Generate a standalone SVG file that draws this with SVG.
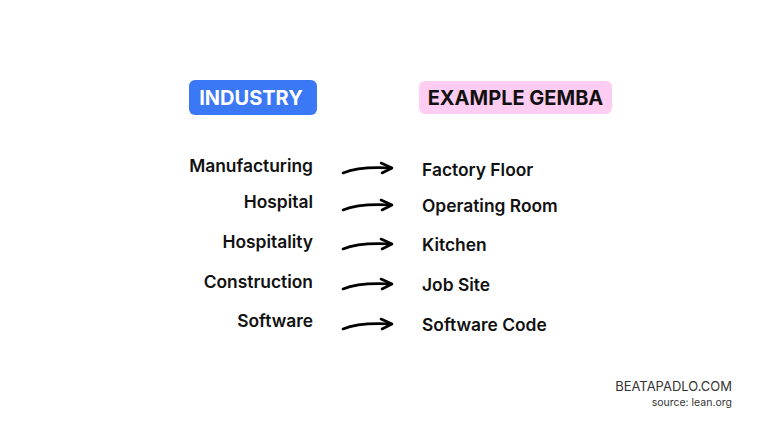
<svg xmlns="http://www.w3.org/2000/svg" width="768" height="432" viewBox="0 0 768 432">
<defs>
<style>
.lbl{font-family:Inter,"Noto Sans",sans-serif;font-weight:600;font-size:17.4px;fill:#111}
.l{text-anchor:end}
.hdr{font-family:Inter,"Noto Sans",sans-serif;font-weight:700;font-size:20px}
.arr{fill:none;stroke:#000;stroke-width:2.6;stroke-linecap:round;stroke-linejoin:round}
.src{font-family:Inter,"Noto Sans",sans-serif;fill:#333;text-anchor:end}
</style>
<g id="arrowShape">
<path class="arr" d="M0,4 C12,-1 30,-2 48,-1"/>
<path class="arr" d="M38,-6 L49,-1 L39,4"/>
</g>
</defs>
<rect width="768" height="432" fill="#fff"/>
<g id="hdr-industry">
<rect x="189" y="80" width="128" height="35" rx="6" fill="#3b78f6"/>
<text class="hdr" x="251" y="104.5" text-anchor="middle" fill="#fff">INDUSTRY</text>
</g>
<g id="hdr-gemba">
<rect x="419" y="81" width="193" height="33" rx="6" fill="#ffccf2"/>
<text class="hdr" x="515.5" y="104.5" text-anchor="middle" fill="#111">EXAMPLE GEMBA</text>
</g>
<g id="row1"><text class="lbl l" x="313" y="172">Manufacturing</text><text class="lbl" x="422" y="176">Factory Floor</text></g>
<g id="row2"><text class="lbl l" x="313" y="208">Hospital</text><text class="lbl" x="422" y="212">Operating Room</text></g>
<g id="row3"><text class="lbl l" x="313" y="248">Hospitality</text><text class="lbl" x="422" y="251">Kitchen</text></g>
<g id="row4"><text class="lbl l" x="313" y="288">Construction</text><text class="lbl" x="422" y="291">Job Site</text></g>
<g id="row5"><text class="lbl l" x="313" y="327">Software</text><text class="lbl" x="422" y="331">Software Code</text></g>
<g id="connectors">
<use href="#arrowShape" x="343" y="169"/>
<use href="#arrowShape" x="343" y="206"/>
<use href="#arrowShape" x="343" y="245"/>
<use href="#arrowShape" x="343" y="285"/>
<use href="#arrowShape" x="343" y="325"/>
</g>
<g id="footer">
<text class="src" x="732" y="391" font-size="13">BEATAPADLO.COM</text>
<text class="src" x="732" y="405.5" font-size="10.5">source: lean.org</text>
</g>
</svg>
